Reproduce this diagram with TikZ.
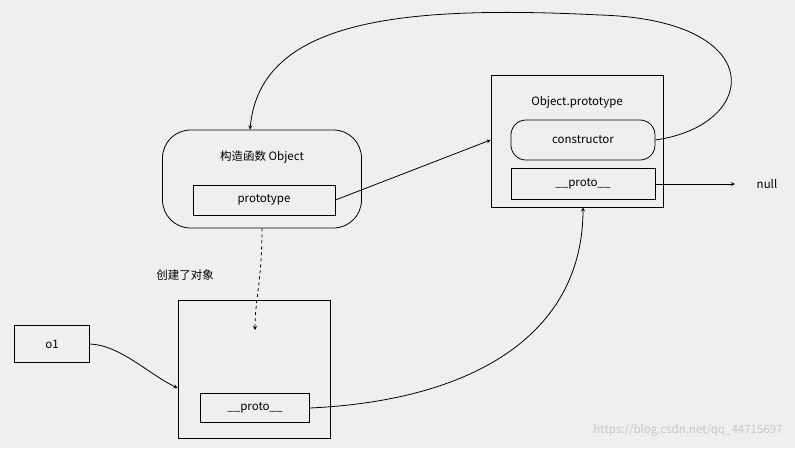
\documentclass[tikz,border=0pt]{standalone}
\usepackage{fontspec}
\setmainfont{Noto Sans CJK SC}
\usetikzlibrary{positioning,calc}
\definecolor{bggray}{HTML}{EFEFEF}
\tikzstyle{box} = [draw, fill=bggray, rectangle, inner sep=0pt]
\tikzstyle{slot} = [draw, fill=bggray, rectangle, minimum height=30pt]
\tikzstyle{link} = [->, >=stealth]
\begin{document}
\begin{tikzpicture}[x=1pt, y=-1pt, font=\fontsize{11.5}{13}\selectfont, line width=0.8pt]
        \fill[bggray] (0,0) rectangle (795,448);
        \useasboundingbox (0,0) rectangle (795,448);

        % constructor function
        \node [box, rounded corners=28pt, minimum width=199pt, minimum height=98pt] (ctor) at (262,179) {};
        \node (ctortitle) at (262,157) {构造函数 Object};
        \node [slot, minimum width=142pt] (proto) at (264,200) {prototype};

        % Object.prototype
        \node [box, minimum width=172pt, minimum height=132pt] (objp) at (577,141) {};
        \node (objptitle) at (577,102) {Object.prototype};
        \node [slot, rounded corners=15pt, minimum width=144pt, minimum height=40pt] (cons) at (583,140) {constructor};
        \node [slot, minimum width=144pt, minimum height=31pt] (objpproto) at (583,184) {\_\_proto\_\_};
        \node (null) at (767,184) {null};

        % instance
        \node [box, minimum width=75pt, minimum height=37pt] (o1) at (52,344) {o1};
        \node [box, minimum width=152pt, minimum height=138pt] (inst) at (254,369) {};
        \node [slot, minimum width=109pt, minimum height=29pt] (instproto) at (255,408) {\_\_proto\_\_};
        \node (made) at (185,275) {创建了对象};
        \coordinate (instin) at (255,330);

        \draw [link] (proto.east) -- (objp.west |- cons);
        \draw [link] (objpproto.east) -- (735,184);
        \draw [link] (cons.east) .. controls (760,125) and (770,20) .. (600,15)
            .. controls (400,5) and (260,20) .. ($(ctor.north)+(-12,0)$);
        \draw [link, dashed] (ctor.south) .. controls (262,280) and (255,300) .. (instin);
        \draw [link] (o1.east) .. controls (120,345) and (150,375) .. ($(inst.west)+(0,19)$);
        \draw [link] (instproto.east) .. controls (480,400) and (583,330) .. (objp.south -| objpproto);

        \node [text=white!55!gray] (mark) at (688,430) {https://blog.csdn.net/qq\_44715697};
    \end{tikzpicture}
\end{document}
